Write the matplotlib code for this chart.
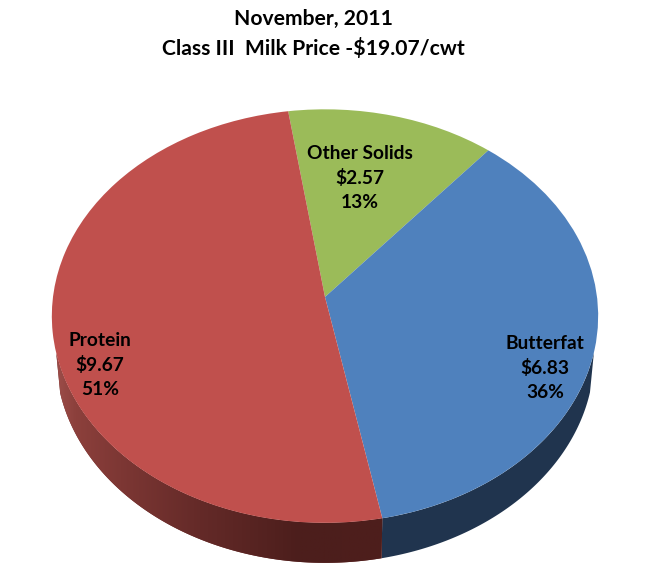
import numpy as np
import matplotlib
matplotlib.use("Agg")
import matplotlib.pyplot as plt
from matplotlib.colors import LinearSegmentedColormap
from matplotlib.patches import Polygon
from matplotlib.transforms import Transform

plt.rcParams['font.family'] = ['Lato', 'DejaVu Sans']

# data
names = ["Other Solids", "Butterfat", "Protein"]
prices = [2.57, 6.83, 9.67]
percents = [13, 36, 51]
title_lines = ["November, 2011", "Class III  Milk Price -$19.07/cwt"]

top_colors = ["#9BBB59", "#4F81BD", "#C0504D"]
wall_colors = ["#9BBB59", "#20344E", "#4E1E1C"]
red_fade = ["#A0504C", "#8C403C", "#7D3734", "#642A28", "#4C1E1C", "#4E1E1C"]
red_fade_x = [52, 75, 120, 200, 300, 385]

# label centres in pixels
label_x = [360, 545, 100]
label_y = [178, 368, 365]


class PieView(Transform):
    # unit circle -> tilted disc in pixel coords (perspective)
    input_dims = 2
    output_dims = 2

    def __init__(self, cx=325, cy=297, sx=272, a=205, c=0.0923):
        super().__init__()
        self.cx, self.cy, self.sx, self.a, self.c = cx, cy, sx, a, c

    def transform_non_affine(self, values):
        values = np.asarray(values)
        u, v = values[:, 0], values[:, 1]
        w = 1 + self.c * v
        return np.column_stack([self.cx + self.sx * u / w, self.cy - self.a * v / w])


top_view = PieView()
low_view = PieView(cy=337, sx=268)

fig = plt.figure(figsize=(6.47, 5.72), dpi=100)
ax = fig.add_axes([0, 0, 1, 1])

wedges, _ = ax.pie(prices, startangle=98.5, counterclock=False, colors=top_colors, frame=True)

for w in wedges:
    w.set_transform(top_view + ax.transData)
    w.set_zorder(5)
    w.set_linewidth(0)

# side wall: only the part of the rim that hangs below the top surface
fade = LinearSegmentedColormap.from_list(
    "fade", [((x - 52) / (385 - 52), c) for x, c in zip(red_fade_x, red_fade)])
for w, name, col in zip(wedges, names, wall_colors):
    th = np.radians(np.linspace(w.theta1, w.theta2, 400))
    ring = np.column_stack([np.cos(th), np.sin(th)])
    upper = top_view.transform(ring)
    lower = low_view.transform(ring)
    keep = upper[:, 1] > 352
    if not keep.any():
        continue
    outline = np.vstack([upper[keep], lower[keep][::-1]])
    wall = Polygon(outline, closed=True, facecolor=col, edgecolor="none", zorder=2)
    ax.add_patch(wall)
    if name == "Protein":
        # horizontal fade on top of the flat colour, AA edge stays from the polygon
        wall.set_facecolor("#6E2E2B")
        im = ax.imshow(np.linspace(0, 1, 256).reshape(1, -1), cmap=fade, vmin=0, vmax=1,
                       extent=[52, 385, 572, 300], aspect="auto", zorder=3)
        im.set_clip_path(Polygon(outline, closed=True, transform=ax.transData))

ax.set_aspect("auto")
ax.set_xlim(0, 647)
ax.set_ylim(572, 0)
ax.axis("off")

for name, price, pct, x, y in zip(names, prices, percents, label_x, label_y):
    ax.text(x, y, f"{name}\n${price:.2f}\n{pct}%", ha="center", va="center", fontsize=13.8,
            fontweight="bold", color="black", linespacing=1.5, parse_math=False, zorder=6)

ax.text(313, 19, title_lines[0], ha="center", va="center", fontsize=15.2, fontweight="bold", parse_math=False)
ax.text(313, 48, title_lines[1], ha="center", va="center", fontsize=15.2, fontweight="bold", parse_math=False)

fig.savefig("out.png", dpi=100, facecolor="white")
